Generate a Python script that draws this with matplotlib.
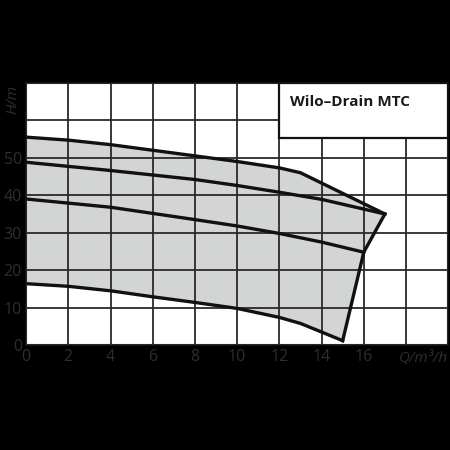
import numpy as np
import matplotlib.pyplot as plt

# pump curves (Q in m3/h, H in m)
q_top = [0, 2, 4, 6, 8, 10, 12, 13, 17]
h_top = [55.5, 54.7, 53.5, 52.0, 50.5, 49.0, 47.3, 46.0, 35.0]

q_mid = [0, 4, 8, 10, 12, 14, 17]
h_mid = [48.8, 46.6, 44.2, 42.6, 40.8, 38.9, 35.0]

q_low = [0, 4, 8, 10, 12, 14, 16]
h_low = [39.0, 36.8, 33.5, 31.8, 29.8, 27.5, 24.8]

q_min = [0, 2, 4, 6, 8, 10, 12, 13, 14, 15]
h_min = [16.4, 15.7, 14.5, 12.9, 11.4, 9.8, 7.4, 5.8, 3.5, 1.2]

x_ticks = [0, 2, 4, 6, 8, 10, 12, 14, 16]
y_ticks = [0, 10, 20, 30, 40, 50]
title = "Wilo–Drain MTC"

plt.rcParams['font.family'] = ['Open Sans', 'DejaVu Sans']

fig = plt.figure(figsize=(4.5, 4.5), dpi=100, facecolor='black')
ax = fig.add_axes([0.058, 0.233, 0.938, 0.583])
ax.set_facecolor('white')

# envelope: top curve, right edge down to (16,25) -> (15,1.2), back along bottom
env_q = q_top + [q_low[-1]] + q_min[::-1]
env_h = h_top + [h_low[-1]] + h_min[::-1]
ax.fill(env_q, env_h, color='#d3d4d4', zorder=1)

lw = 2.4
ax.plot(q_top, h_top, color='#111111', lw=lw, zorder=3)
ax.plot(q_mid, h_mid, color='#111111', lw=lw, zorder=3)
ax.plot(q_low, h_low, color='#111111', lw=lw, zorder=3)
ax.plot(q_min, h_min, color='#111111', lw=lw, zorder=3)
ax.plot([q_min[-1], q_low[-1], q_top[-1]], [h_min[-1], h_low[-1], h_top[-1]],
        color='#111111', lw=lw, zorder=3)

ax.set_xlim(0, 20)
ax.set_ylim(0, 70)
ax.set_xticks(np.arange(0, 21, 2))
ax.set_yticks(np.arange(0, 71, 10))
ax.grid(True, color='#2a2a2a', lw=1.3, zorder=2)
ax.set_axisbelow(False)
ax.set_xticklabels([str(v) if v in x_ticks else '' for v in range(0, 21, 2)])
ax.set_yticklabels([str(v) if v in y_ticks else '' for v in range(0, 71, 10)])
ax.tick_params(length=0, colors='#2e2e2e', labelsize=11.5, pad=3)
for s in ax.spines.values():
    s.set_color('#111111')
    s.set_linewidth(1.5)

# title box in the top right corner
ax.add_patch(plt.Rectangle((12, 55.4), 8, 14.6, facecolor='white', edgecolor='#111111',
                           lw=1.6, zorder=4))
ax.text(12.5, 65, title, fontsize=11, fontweight='bold', color='#1a1a1a',
        va='center', ha='left', zorder=5)

fig.text(0.012, 0.78, "H/m", rotation=90, style='italic', fontsize=11, color='#2e2e2e',
         ha='left', va='center')
fig.text(0.995, 0.205, "Q/m³/h", style='italic', fontsize=11, color='#2e2e2e',
         ha='right', va='center')

fig.savefig('out.png', dpi=100, facecolor='black')
